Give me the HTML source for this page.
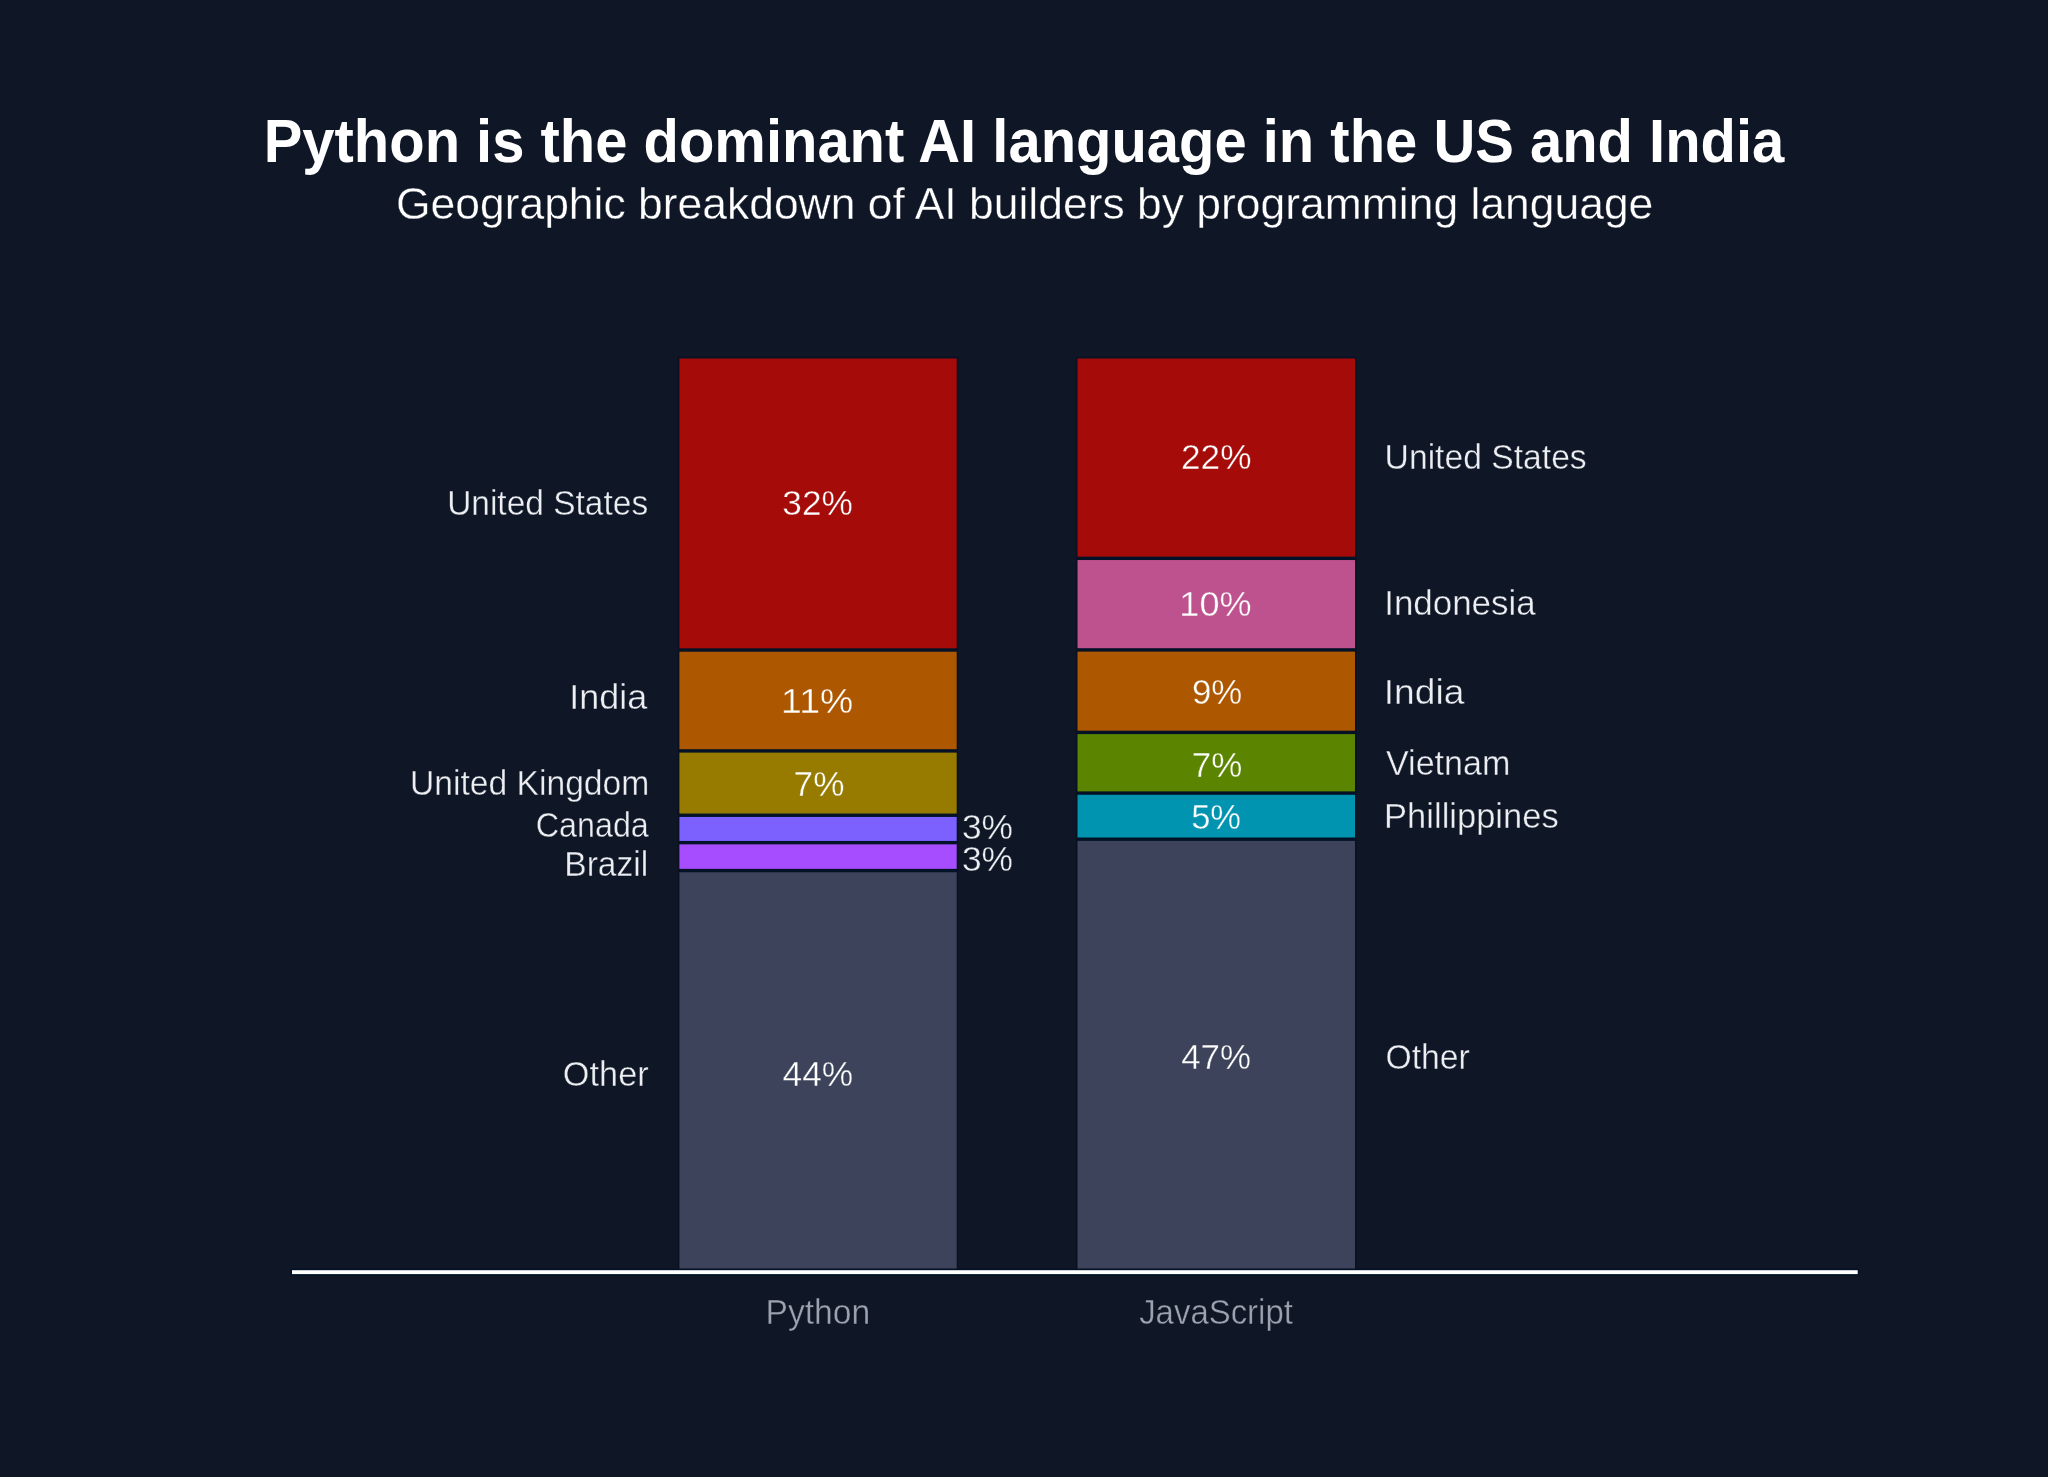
<!DOCTYPE html>
<html><head><meta charset="utf-8"><style>
html,body{margin:0;padding:0;background:#0f1626;}
body{width:2048px;height:1477px;overflow:hidden;}
svg{display:block;will-change:transform;}
text{font-family:"Liberation Sans",sans-serif;}
</style></head><body>
<svg width="2048" height="1477" viewBox="0 0 2048 1477">
<rect x="0" y="0" width="2048" height="1477" fill="#0f1626"/>
<rect x="677.80" y="356.90" width="280.50" height="912.60" fill="#0a1120"/>
<rect x="679.40" y="358.50" width="277.30" height="911.00" fill="#031226"/>
<rect x="679.4" y="358.50" width="277.30" height="289.80" fill="#a50b08"/>
<rect x="679.4" y="651.70" width="277.30" height="97.50" fill="#ad5700"/>
<rect x="679.4" y="752.60" width="277.30" height="60.95" fill="#967b00"/>
<rect x="679.4" y="816.95" width="277.30" height="24.00" fill="#7c61ff"/>
<rect x="679.4" y="844.35" width="277.30" height="24.50" fill="#a64dff"/>
<rect x="679.4" y="872.25" width="277.30" height="397.25" fill="#3c435a"/>
<rect x="1075.90" y="356.90" width="280.70" height="912.60" fill="#0a1120"/>
<rect x="1077.50" y="358.50" width="277.50" height="911.00" fill="#031226"/>
<rect x="1077.5" y="358.50" width="277.50" height="198.15" fill="#a50b08"/>
<rect x="1077.5" y="560.05" width="277.50" height="88.15" fill="#be528f"/>
<rect x="1077.5" y="651.60" width="277.50" height="79.10" fill="#ad5700"/>
<rect x="1077.5" y="734.10" width="277.50" height="57.30" fill="#5b8500"/>
<rect x="1077.5" y="794.80" width="277.50" height="42.70" fill="#0094b0"/>
<rect x="1077.5" y="840.90" width="277.50" height="428.60" fill="#3c435a"/>
<rect x="290.3" y="1268.5" width="1569.1" height="7.3" fill="#031226"/>
<rect x="292" y="1270.2" width="1565.7" height="3.9" fill="#ffffff"/>
<text x="263.67" y="162.1" font-size="60.32" font-weight="bold" textLength="1520.67" lengthAdjust="spacingAndGlyphs" fill="#ffffff">Python is the dominant AI language in the US and India</text>
<text x="395.93" y="218.6" font-size="44.04" font-weight="normal" textLength="1257.41" lengthAdjust="spacingAndGlyphs" fill="#ffffff" stroke="#0f1626" stroke-width="0.4">Geographic breakdown of AI builders by programming language</text>
<text x="447.13" y="514.5" font-size="34.88" font-weight="normal" textLength="201.02" lengthAdjust="spacingAndGlyphs" fill="#eceef2" stroke="#0f1626" stroke-width="0.4">United States</text>
<text x="569.20" y="709.0" font-size="34.88" font-weight="normal" textLength="78.09" lengthAdjust="spacingAndGlyphs" fill="#eceef2" stroke="#0f1626" stroke-width="0.4">India</text>
<text x="409.90" y="795.1" font-size="34.88" font-weight="normal" textLength="239.43" lengthAdjust="spacingAndGlyphs" fill="#eceef2" stroke="#0f1626" stroke-width="0.4">United Kingdom</text>
<text x="535.74" y="836.6" font-size="34.88" font-weight="normal" textLength="113.09" lengthAdjust="spacingAndGlyphs" fill="#eceef2" stroke="#0f1626" stroke-width="0.4">Canada</text>
<text x="564.26" y="875.9" font-size="34.88" font-weight="normal" textLength="84.07" lengthAdjust="spacingAndGlyphs" fill="#eceef2" stroke="#0f1626" stroke-width="0.4">Brazil</text>
<text x="562.86" y="1085.5" font-size="34.88" font-weight="normal" textLength="85.77" lengthAdjust="spacingAndGlyphs" fill="#eceef2" stroke="#0f1626" stroke-width="0.4">Other</text>
<text x="782.36" y="515.0" font-size="34.88" font-weight="normal" textLength="70.60" lengthAdjust="spacingAndGlyphs" fill="#ffffff" stroke="#a50b08" stroke-width="0.4">32%</text>
<text x="781.13" y="713.1" font-size="34.88" font-weight="normal" textLength="72.01" lengthAdjust="spacingAndGlyphs" fill="#ffffff" stroke="#ad5700" stroke-width="0.4">11%</text>
<text x="793.59" y="795.6" font-size="34.88" font-weight="normal" textLength="50.87" lengthAdjust="spacingAndGlyphs" fill="#ffffff" stroke="#967b00" stroke-width="0.4">7%</text>
<text x="961.94" y="839.4" font-size="34.88" font-weight="normal" textLength="51.16" lengthAdjust="spacingAndGlyphs" fill="#eceef2" stroke="#0f1626" stroke-width="0.4">3%</text>
<text x="961.94" y="870.5" font-size="34.88" font-weight="normal" textLength="51.16" lengthAdjust="spacingAndGlyphs" fill="#eceef2" stroke="#0f1626" stroke-width="0.4">3%</text>
<text x="782.59" y="1085.5" font-size="34.88" font-weight="normal" textLength="70.67" lengthAdjust="spacingAndGlyphs" fill="#ffffff" stroke="#3c435a" stroke-width="0.4">44%</text>
<text x="1180.99" y="469.3" font-size="34.88" font-weight="normal" textLength="70.52" lengthAdjust="spacingAndGlyphs" fill="#ffffff" stroke="#a50b08" stroke-width="0.4">22%</text>
<text x="1179.36" y="615.6" font-size="34.88" font-weight="normal" textLength="72.18" lengthAdjust="spacingAndGlyphs" fill="#ffffff" stroke="#be528f" stroke-width="0.4">10%</text>
<text x="1191.90" y="703.8" font-size="34.88" font-weight="normal" textLength="50.38" lengthAdjust="spacingAndGlyphs" fill="#ffffff" stroke="#ad5700" stroke-width="0.4">9%</text>
<text x="1191.73" y="776.9" font-size="34.88" font-weight="normal" textLength="50.51" lengthAdjust="spacingAndGlyphs" fill="#ffffff" stroke="#5b8500" stroke-width="0.4">7%</text>
<text x="1191.13" y="828.7" font-size="34.88" font-weight="normal" textLength="49.93" lengthAdjust="spacingAndGlyphs" fill="#ffffff" stroke="#0094b0" stroke-width="0.4">5%</text>
<text x="1181.14" y="1068.6" font-size="34.88" font-weight="normal" textLength="69.82" lengthAdjust="spacingAndGlyphs" fill="#ffffff" stroke="#3c435a" stroke-width="0.4">47%</text>
<text x="1384.62" y="468.6" font-size="34.88" font-weight="normal" textLength="202.09" lengthAdjust="spacingAndGlyphs" fill="#eceef2" stroke="#0f1626" stroke-width="0.4">United States</text>
<text x="1384.18" y="614.8" font-size="34.88" font-weight="normal" textLength="151.54" lengthAdjust="spacingAndGlyphs" fill="#eceef2" stroke="#0f1626" stroke-width="0.4">Indonesia</text>
<text x="1383.82" y="703.8" font-size="34.88" font-weight="normal" textLength="80.47" lengthAdjust="spacingAndGlyphs" fill="#eceef2" stroke="#0f1626" stroke-width="0.4">India</text>
<text x="1386.03" y="774.5" font-size="34.88" font-weight="normal" textLength="124.30" lengthAdjust="spacingAndGlyphs" fill="#eceef2" stroke="#0f1626" stroke-width="0.4">Vietnam</text>
<text x="1384.10" y="827.9" font-size="34.88" font-weight="normal" textLength="174.56" lengthAdjust="spacingAndGlyphs" fill="#eceef2" stroke="#0f1626" stroke-width="0.4">Phillippines</text>
<text x="1385.43" y="1068.8" font-size="34.88" font-weight="normal" textLength="84.32" lengthAdjust="spacingAndGlyphs" fill="#eceef2" stroke="#0f1626" stroke-width="0.4">Other</text>
<text x="765.49" y="1323.6" font-size="34.59" font-weight="normal" textLength="104.71" lengthAdjust="spacingAndGlyphs" fill="#9ca3af" stroke="#0f1626" stroke-width="0.4">Python</text>
<text x="1139.16" y="1323.6" font-size="34.59" font-weight="normal" textLength="153.71" lengthAdjust="spacingAndGlyphs" fill="#9ca3af" stroke="#0f1626" stroke-width="0.4">JavaScript</text>
</svg>
</body></html>
